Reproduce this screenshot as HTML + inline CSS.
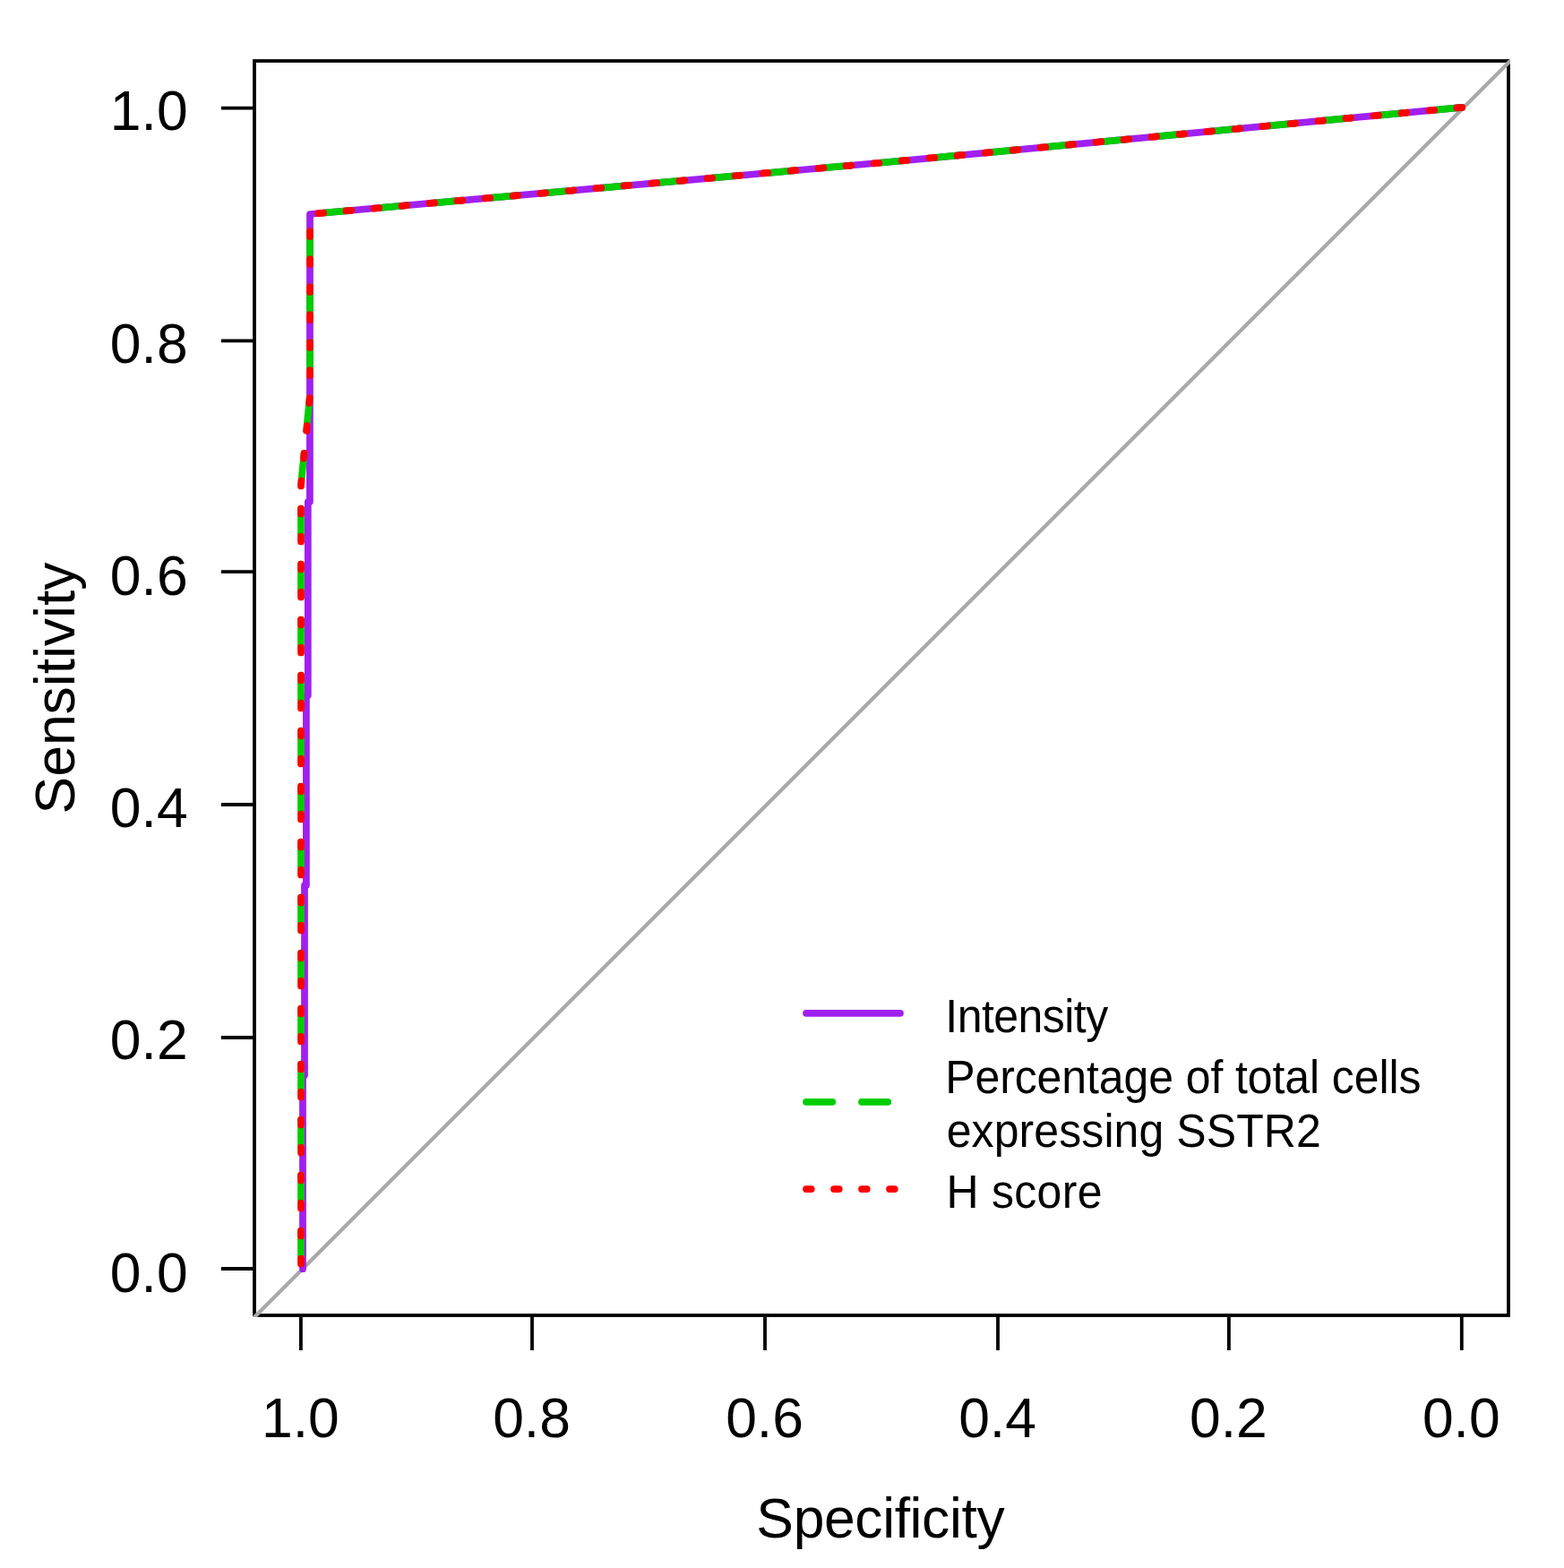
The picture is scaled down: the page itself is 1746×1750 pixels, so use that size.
<!DOCTYPE html><html><head><meta charset="utf-8"><title>ROC curves</title><style>html,body{margin:0;padding:0;background:#fff;overflow:hidden;}svg{display:block;}text{font-family:"Liberation Sans",Arial,sans-serif;fill:#000;}</style></head><body>
<svg width="1746" height="1750" viewBox="0 0 1746 1750">
<rect x="0" y="0" width="1746" height="1750" fill="#fff"/>
<defs><clipPath id="pc"><rect x="282.10" y="66.10" width="1403.80" height="1403.80"/></clipPath></defs>
<rect x="284.00" y="68.00" width="1400.00" height="1400.00" fill="none" stroke="#000" stroke-width="3.80"/>
<path d="M284.00 1416.00H246.90M284.00 1158.00H246.90M284.00 898.00H246.90M284.00 638.20H246.90M284.00 380.30H246.90M284.00 120.55H246.90M335.90 1468.00V1507.00M594.00 1468.00V1507.00M854.00 1468.00V1507.00M1114.00 1468.00V1507.00M1371.90 1468.00V1507.00M1631.80 1468.00V1507.00" stroke="#000" stroke-width="3.80" fill="none"/>
<g clip-path="url(#pc)"><line x1="266.00" y1="1488.00" x2="1706.00" y2="48.00" stroke="#a9a9a9" stroke-width="4.20"/></g>
<g fill="none" stroke-width="7.75" stroke-linecap="round" stroke-linejoin="round">
<polyline points="1632.15,119.85 990.00,181.00 346.00,239.00 345.90,560.00 343.80,560.00 343.80,776.00 341.90,776.00 341.90,988.00 340.00,988.00 340.00,1200.00 338.00,1200.00 338.00,1416.15" stroke="#a020f0"/>
<polyline points="1632.15,119.85 990.00,181.00 346.00,239.00" stroke="#00cd00" stroke-dasharray="29.375 32.890"/>
<polyline points="346.00,239.00 346.00,441.00 336.00,541.00 336.00,1416.15" stroke="#00cd00" stroke-dasharray="29.250 32.750" stroke-dashoffset="42.800"/>
<polyline points="1632.15,119.85 990.00,181.00 346.00,239.00" stroke="#ff0000" stroke-dasharray="5.775 25.358"/>
<polyline points="346.00,239.00 346.00,441.00 336.00,541.00 336.00,1416.15" stroke="#ff0000" stroke-dasharray="5.750 25.250" stroke-dashoffset="11.800"/>
</g>
<text x="209.60" y="1441.75" font-size="62.40" text-anchor="end">0.0</text>
<text x="209.60" y="1182.49" font-size="62.40" text-anchor="end">0.2</text>
<text x="209.60" y="923.23" font-size="62.40" text-anchor="end">0.4</text>
<text x="209.60" y="663.97" font-size="62.40" text-anchor="end">0.6</text>
<text x="209.60" y="404.71" font-size="62.40" text-anchor="end">0.8</text>
<text x="209.60" y="145.45" font-size="62.40" text-anchor="end">1.0</text>
<text x="335.40" y="1603.80" font-size="62.40" text-anchor="middle">1.0</text>
<text x="593.50" y="1603.80" font-size="62.40" text-anchor="middle">0.8</text>
<text x="853.50" y="1603.80" font-size="62.40" text-anchor="middle">0.6</text>
<text x="1113.50" y="1603.80" font-size="62.40" text-anchor="middle">0.4</text>
<text x="1371.40" y="1603.80" font-size="62.40" text-anchor="middle">0.2</text>
<text x="1631.30" y="1603.80" font-size="62.40" text-anchor="middle">0.0</text>
<text x="983.00" y="1716.00" font-size="62.40" text-anchor="middle" textLength="277.26" lengthAdjust="spacing">Specificity</text>
<text x="0" y="0" font-size="62.40" text-anchor="middle" transform="translate(83.20 768.00) rotate(-90)">Sensitivity</text>
<g fill="none" stroke-width="7.75" stroke-linecap="round">
<line x1="900.00" y1="1130.80" x2="1005.00" y2="1130.80" stroke="#a020f0"/>
<line x1="900.00" y1="1229.80" x2="1005.00" y2="1229.80" stroke="#00cd00" stroke-dasharray="29.250 32.750"/>
<line x1="900.00" y1="1327.00" x2="1005.00" y2="1327.00" stroke="#ff0000" stroke-dasharray="5.750 25.250"/>
</g>
<text x="0" y="0" font-size="50.00" textLength="181.90" lengthAdjust="spacing" transform="translate(1055.30 1152.00) scale(1 1.045)">Intensity</text>
<text x="0" y="0" font-size="50.00" textLength="531.26" lengthAdjust="spacing" transform="translate(1055.20 1219.70) scale(1 1.045)">Percentage of total cells</text>
<text x="0" y="0" font-size="50.00" textLength="418.16" lengthAdjust="spacing" transform="translate(1056.70 1280.10) scale(1 1.045)">expressing SSTR2</text>
<text x="0" y="0" font-size="50.00" textLength="174.07" lengthAdjust="spacing" transform="translate(1056.40 1347.70) scale(1 1.045)">H score</text>
</svg></body></html>
